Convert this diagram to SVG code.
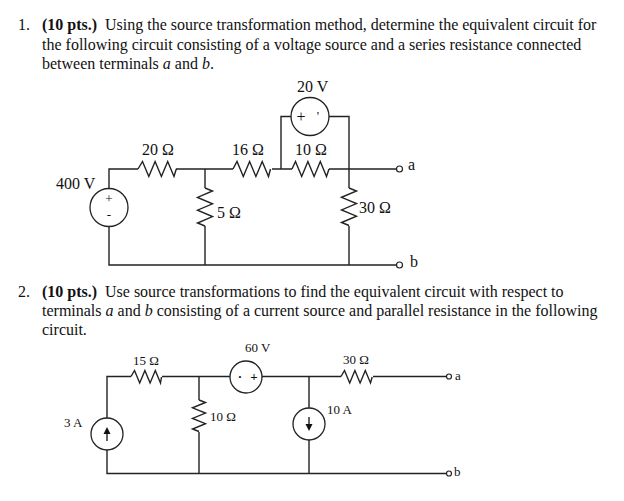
<svg xmlns="http://www.w3.org/2000/svg" width="624" height="501" viewBox="0 0 624 501">
<style>
text{font-family:"Liberation Serif","Times New Roman",serif;fill:#111}
.p{font-size:16px}
.l{font-size:16px}
.s{font-size:13px}
.w{fill:none;stroke:#222;stroke-width:1.4}
.c{fill:#fff;stroke:#222;stroke-width:1.3}
.t{fill:#fff;stroke:#222;stroke-width:1.2}
</style>
<rect width="624" height="501" fill="#fff"/>
<g id="text-q1">
<text class="p" x="18" y="30">1.</text>
<text class="p" x="42" y="30" font-weight="bold">(10 pts.)</text>
<text class="p" x="105" y="30">Using the source transformation method, determine the equivalent circuit for</text>
<text class="p" x="42" y="50">the following circuit consisting of a voltage source and a series resistance connected</text>
<text class="p" x="42" y="69">between terminals <tspan font-style="italic">a</tspan> and <tspan font-style="italic">b</tspan>.</text>
</g>
<g id="text-q2">
<text class="p" x="18" y="297">2.</text>
<text class="p" x="42" y="297" font-weight="bold">(10 pts.)</text>
<text class="p" x="105" y="297">Use source transformations to find the equivalent circuit with respect to</text>
<text class="p" x="42" y="316">terminals <tspan font-style="italic">a</tspan> and <tspan font-style="italic">b</tspan> consisting of a current source and parallel resistance in the following</text>
<text class="p" x="42" y="335">circuit.</text>
</g>
<g id="connectors">
<path class="w" d="M109 188.500V169H138M176 169H233M272 169H292M329 169H396M205 169V188M205 226V265M109 226.500V265H396M281 169V116.500H291M329 116.500H349V188M349 226V265"/>
<path class="w" d="M138 169l4.500-7.500 6.300 15 6.300-15 6.300 15 6.300-15 6.300 15 2.300-7.500"/>
<path class="w" d="M233 169l4-7.500 6.300 15 6.300-15 6.300 15 6.300-15 6.300 15 2-7.500"/>
<path class="w" d="M292 169l3.500-7.500 6.200 15 6.200-15 6.200 15 6.200-15 6.200 15 2.500-7.500"/>
<path class="w" d="M205 188l7.500 3-15 6.400 15 6.400-15 6.400 15 6.400-15 6.400 7.500 3"/>
<path class="w" d="M349 188l7.500 3-15 6.300 15 6.300-15 6.300 15 6.300-15 6.300 7.500 3"/>
<path class="w" d="M107 418V376.500H131M162 376.500H230M262 376.500H341M373 376.500H446.500M199 376.500V400M199 432V473.500M107 450V473.500H446.500M309 376.500V408M309 440V473.500"/>
<path class="w" d="M131 376.500l3.500-6 5.200 12.500 5.200-12.500 5.200 12.500 5.200-12.500 5.200 12.500 1-6"/>
<path class="w" d="M341 376.500l3.500-6 5.200 12.500 5.200-12.500 5.200 12.500 5.200-12.500 5.200 12.500 1.700-6"/>
<path class="w" d="M199 400l6.500 2.500-13 5.300 13 5.300-13 5.300 13 5.300-13 5.300 6.500 2.500"/>
</g>
<g id="source-400v">
<circle class="c" cx="109" cy="207.500" r="19"/>
<text class="s" x="109" y="203" text-anchor="middle">+</text>
<text class="s" x="109" y="219" text-anchor="middle">-</text>
<text class="l" x="56" y="189">400 V</text>
</g>
<g id="source-20v">
<circle class="c" cx="310" cy="116.500" r="19"/>
<text class="l" x="301" y="122" text-anchor="middle">+</text>
<text class="s" x="318" y="120" text-anchor="middle">'</text>
<text class="l" x="297" y="92">20 V</text>
</g>
<g id="r-20"><text class="l" x="142" y="155">20 Ω</text></g>
<g id="r-5"><text class="l" x="217" y="218">5 Ω</text></g>
<g id="r-16"><text class="l" x="232" y="155">16 Ω</text></g>
<g id="r-10"><text class="l" x="295" y="155">10 Ω</text></g>
<g id="r-30"><text class="l" x="359" y="213">30 Ω</text></g>
<g id="term-a"><circle class="t" cx="399.500" cy="169" r="3"/><text class="l" x="408" y="170">a</text></g>
<g id="term-b"><circle class="t" cx="399.500" cy="265" r="3"/><text class="l" x="410" y="267">b</text></g>
<g id="source-3a">
<circle class="c" cx="107" cy="434" r="16"/>
<path d="M107 441V432" stroke="#111" stroke-width="1.300"/>
<path d="M107 427l-3.500 7h7z" fill="#111"/>
<text class="s" x="64" y="427">3 A</text>
</g>
<g id="source-60v">
<circle class="c" cx="246" cy="377" r="16"/>
<text class="s" x="240" y="381" text-anchor="middle" font-weight="bold">·</text>
<text class="s" x="254" y="381" text-anchor="middle" font-weight="bold">+</text>
<text class="s" x="245" y="352">60 V</text>
</g>
<g id="source-10a">
<circle class="c" cx="309" cy="424" r="16"/>
<path d="M309 417V426" stroke="#111" stroke-width="1.300"/>
<path d="M309 431l-3.500-7h7z" fill="#111"/>
<text class="s" x="327" y="414">10 A</text>
</g>
<g id="r-15"><text class="s" x="133" y="365">15 Ω</text></g>
<g id="r-10b"><text class="s" x="210" y="421">10 Ω</text></g>
<g id="r-30b"><text class="s" x="343" y="364">30 Ω</text></g>
<g id="term-a2"><circle class="t" cx="449" cy="376.500" r="2.500"/><text class="s" x="455" y="380">a</text></g>
<g id="term-b2"><circle class="t" cx="449" cy="473.500" r="2.500"/><text class="s" x="454" y="476">b</text></g>
</svg>
